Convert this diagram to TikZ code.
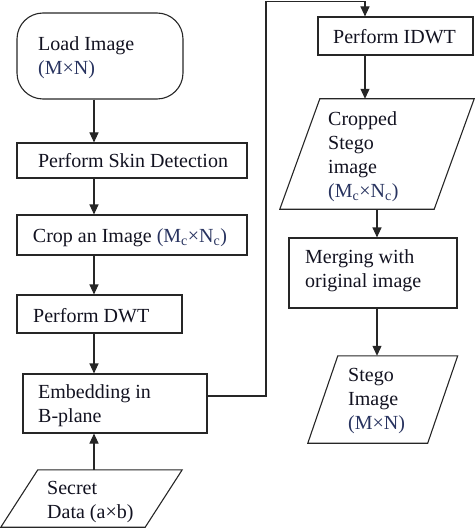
\documentclass[tikz,border=0pt]{standalone}
\usepackage{fontspec}
\setmainfont{Liberation Serif}
\usetikzlibrary{arrows.meta}
\definecolor{linec}{HTML}{262626}
\definecolor{txtc}{HTML}{121220}
\definecolor{pcc}{HTML}{28335F}
\newcommand{\pcol}[1]{\textcolor{pcc}{#1}}
\begin{document}
\begin{tikzpicture}[x=1pt,y=-1pt,
  box/.style={draw=linec, line width=1.1pt, inner sep=0pt},
  ghost/.style={inner sep=0pt},
  txt/.style={inner sep=0pt, align=left, text=txtc, font=\fontsize{20}{24}\selectfont},
  outl/.style={draw=linec, line width=1.1pt, line join=miter},
  arr/.style={draw=linec, line width=1.1pt, -{Triangle[length=10pt,width=9pt]}},
  conn/.style={draw=linec, line width=1.1pt}]
\useasboundingbox (0,0) rectangle (474,529);
% spines
\coordinate (spine) at (94,0);
\coordinate (over) at (365,1.5);
\coordinate (up) at (266,1.5);
\coordinate (rsp) at (377,0);
% left column
\node[box, minimum width=166pt, minimum height=86pt, rounded corners=26pt] (load) at (100,56) {};
\node[txt, anchor=west] (loadt) at (38,57.5) {Load Image\\\pcol{(M×N)}};
\node[box, minimum width=230pt, minimum height=35pt] (skin) at (132,160.5) {};
\node[txt, anchor=base] (skint) at (133,168) {Perform Skin Detection};
\node[box, minimum width=230pt, minimum height=40pt] (crop) at (132,235) {};
\node[txt, anchor=base] (cropt) at (130,242) {Crop an Image \pcol{(M\textsubscript{c}×N\textsubscript{c})}};
\node[box, minimum width=165pt, minimum height=38pt] (dwt) at (99.5,314) {};
\node[txt, anchor=base west] (dwtt) at (33,322) {Perform DWT};
\node[box, minimum width=184pt, minimum height=59pt] (embed) at (115,403.5) {};
\node[txt, anchor=west] (embedt) at (38,405.5) {Embedding in\\B-plane};
\node[ghost, minimum width=144pt, minimum height=57pt] (secret) at (91.5,498.5) {};
\draw[outl] ([xshift=18.5pt]secret.north west) -- ([xshift=18.5pt]secret.north east) -- ([xshift=-18.5pt]secret.south east) -- ([xshift=-18.5pt]secret.south west) -- cycle;
\node[txt, anchor=west] (secrett) at (47,502) {Secret\\Data (a×b)};
% right column
\node[box, minimum width=155pt, minimum height=38pt] (idwt) at (395.5,36) {};
\node[txt, anchor=base west] (idwtt) at (333,44) {Perform IDWT};
\node[ghost, minimum width=154pt, minimum height=110pt] (cs) at (377,154) {};
\draw[outl] ([xshift=20pt]cs.north west) -- ([xshift=20pt]cs.north east) -- ([xshift=-20pt]cs.south east) -- ([xshift=-20pt]cs.south west) -- cycle;
\node[txt, anchor=west] (cst) at (328,156.5) {Cropped\\Stego\\image\\\pcol{(M\textsubscript{c}×N\textsubscript{c})}};
\node[box, minimum width=168pt, minimum height=70pt] (merge) at (373,273) {};
\node[txt, anchor=west] (merget) at (305,270.5) {Merging with\\original image};
\node[ghost, minimum width=119.5pt, minimum height=87pt] (stego) at (382.75,399.5) {};
\draw[outl] ([xshift=15pt]stego.north west) -- ([xshift=15pt]stego.north east) -- ([xshift=-15pt]stego.south east) -- ([xshift=-15pt]stego.south west) -- cycle;
\node[txt, anchor=west] (stegot) at (348,401.5) {Stego\\Image\\\pcol{(M×N)}};
% connectors
\draw[arr] (load.south -| spine) -- (skin.north -| spine);
\draw[arr] (skin.south -| spine) -- (crop.north -| spine);
\draw[arr] (crop.south -| spine) -- (dwt.north -| spine);
\draw[arr] (dwt.south -| spine) -- (embed.north -| spine);
\draw[arr] (secret.north -| spine) -- (embed.south -| spine);
\coordinate (eo) at ([yshift=7.5pt]embed.east);
\draw[arr, line join=miter] (eo) -- (eo -| up) -- (up) -- (over) -- (idwt.north -| over);
\draw[arr] (idwt.south -| over) -- (cs.north -| over);
\draw[arr] (cs.south -| rsp) -- (merge.north -| rsp);
\draw[arr] (merge.south -| rsp) -- (stego.north -| rsp);
\end{tikzpicture}
\end{document}
